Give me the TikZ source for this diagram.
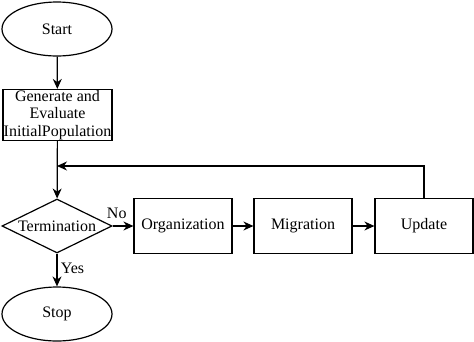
\documentclass[tikz,border=0pt]{standalone}
\usepackage{fontspec}
\setmainfont{Liberation Serif}
\usetikzlibrary{shapes.geometric,arrows.meta}
\begin{document}
\begin{tikzpicture}[x=1pt,y=-1pt,
  every node/.style={font=\fontsize{16}{17.5}\selectfont},
  term/.style={draw,ellipse,line width=1.2pt,minimum width=110pt,minimum height=54pt,inner sep=0pt},
  procbox/.style={draw,rectangle,line width=1.2pt,minimum width=98pt,minimum height=55pt,inner sep=0pt,align=center},
  decide/.style={draw,diamond,aspect=2,line width=1.2pt,minimum width=110pt,minimum height=54pt,inner sep=0pt},
  conn/.style={line width=1.2pt,-{Stealth[length=10pt,width=9pt]}},
  plain/.style={line width=1.2pt}]
\useasboundingbox (0,0) rectangle (474,341);
\node[term] (start) at (57,29) {Start};
\node[procbox,minimum width=109pt,minimum height=51pt] (gen) at (57.5,115) {Generate and\\Evaluate\\InitialPopulation};
\node[decide] (term) at (57,226) {Termination};
\node[term] (stop) at (57,314) {Stop};
\node[procbox] (org) at (183,226) {Organization};
\node[procbox] (mig) at (303,226) {Migration};
\node[procbox] (upd) at (424,226) {Update};
\coordinate (j) at (57,166);
\coordinate (c) at (424,166);
\draw[conn] (start) -- (gen);
\draw[conn] (gen) -- (term);
\draw[conn] (term.east) -- node[above,pos=0.2,yshift=3pt] {No} (org.west);
\draw[conn] (org) -- (mig);
\draw[conn] (mig) -- (upd);
\draw[conn] (term.south) -- node[right,pos=0.45] {Yes} (stop.north);
\draw[conn] (upd.north) -- (c) -- (j);
\end{tikzpicture}
\end{document}
